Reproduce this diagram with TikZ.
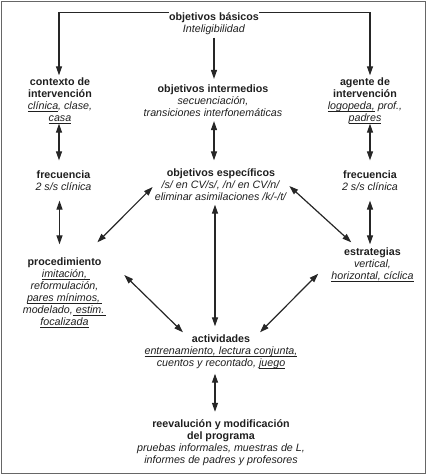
\documentclass[tikz,border=0pt]{standalone}
\usepackage{fontspec}
\setmainfont{Liberation Sans}
\usetikzlibrary{arrows.meta}
\newlength\undlwd
\newcommand\undl[1]{\settowidth\undlwd{#1}\rlap{\rule[-2.2pt]{\undlwd}{0.7pt}}#1}
\begin{document}
\begin{tikzpicture}[x=1pt,y=-1pt,
  every node/.style={align=center,inner sep=0pt,text=black!88,font=\fontsize{10.7}{12}\selectfont},
  conn/.style={line width=1.2pt,draw=black!85,{Triangle[length=9pt,width=6pt]}-{Triangle[length=9pt,width=6pt]}},
  down/.style={line width=1.2pt,draw=black!85,-{Triangle[length=9pt,width=6pt]}}]
\useasboundingbox (0,0) rectangle (427,475);
\draw[black!60,line width=1pt] (1,1) rectangle (425.5,473.5);

\node (basic)  at (214,23.5)  {\textbf{objetivos básicos}\\ \textit{Inteligibilidad}};
\node (ctx)    at (60,100.5)  {\textbf{contexto de}\\ \textbf{intervención}\\ \textit{\undl{clínica}, clase,}\\ \textit{\undl{casa}}};
\node (inter)  at (213,101)   {\textbf{objetivos intermedios}\\ \textit{secuenciación,}\\ \textit{transiciones interfonemáticas}};
\node (agent)  at (365,100.5) {\textbf{agente de}\\ \textbf{intervención}\\ \textit{\undl{logopeda,} prof.,}\\ \textit{\undl{padres}}};
\node (freqL)  at (63.5,180.5) {\textbf{frecuencia}\\ \textit{2 s/s clínica}};
\node (spec)   at (221,184.5) {\textbf{objetivos específicos}\\ \textit{/s/ en CV/s/, /n/ en CV/n/}\\ \textit{eliminar asimilaciones /k/-/t/}};
\node (freqR)  at (370,180.5) {\textbf{frecuencia}\\ \textit{2 s/s clínica}};
\node (proc)   at (64.5,292.5) {\textbf{procedimiento}\\ \textit{\undl{imitación,\ }}\\ \textit{reformulación,}\\ \textit{\undl{pares mínimos,\,}}\\ \textit{modelado,\undl{\ estim.\,}}\\ \textit{\undl{focalizada}}};
\node (strat)  at (372.5,264.5) {\textbf{estrategias}\\ \textit{vertical,}\\ \textit{\undl{horizontal, cíclica}}};
\node (act)    at (221,351.5) {\textbf{actividades}\\ \textit{\undl{entrenamiento, lectura conjunta,}}\\ \textit{cuentos y recontado, \undl{juego}}};
\node (reeval) at (221,443)   {\textbf{reevalución y modificación}\\ \textbf{del programa}\\ \textit{pruebas informales, muestras de L,}\\ \textit{informes de padres y profesores}};

% from the basic goals
\draw[down,shorten >=2pt] (basic.north west) -| ([xshift=-1pt]ctx.north);
\draw[down,shorten >=2pt] (basic.north east) -| ([xshift=5pt]agent.north);
\draw[down,shorten <=3pt,shorten >=6pt] (basic.south) -- (basic.south |- inter.north);

% columns
\draw[conn,shorten >=10pt] ([xshift=-1pt]ctx.south) -- ([xshift=-1pt]ctx.south |- freqL.north);
\draw[conn,shorten <=4pt,shorten >=8pt] ([xshift=1pt]inter.south) -- ([xshift=1pt]inter.south |- spec.north);
\draw[conn,shorten >=10pt] (freqR.north |- agent.south) -- (freqR.north);
\draw[conn,shorten <=10pt,shorten >=13pt] ([xshift=-4pt]freqL.south) -- ([xshift=-4pt]freqL.south |- proc.north);
\draw[conn,shorten <=10pt,shorten >=3pt] (freqR.south) -- (freqR.south |- strat.north);

% around the specific goals
\draw[conn] ([shift={(-2,2.5)}]spec.west) -- ([shift={(-9,-15)}]proc.north east);
\draw[conn] ([shift={(2,1.5)}]spec.east) -- ([shift={(20,-5)}]strat.north west);
\draw[conn,shorten <=4pt,shorten >=8pt] ([xshift=-6pt]spec.south) -- ([xshift=-6pt]spec.south |- act.north);
\draw[conn] ([shift={(18,-17.5)}]proc.east) -- ([shift={(-38,-2)}]act.north);
\draw[conn] ([shift={(-13,-8)}]strat.south west) -- ([shift={(39,-2)}]act.north);
\draw[conn,shorten <=5pt,shorten >=8pt] ([xshift=-6pt]act.south) -- ([xshift=-6pt]act.south |- reeval.north);
\end{tikzpicture}
\end{document}
